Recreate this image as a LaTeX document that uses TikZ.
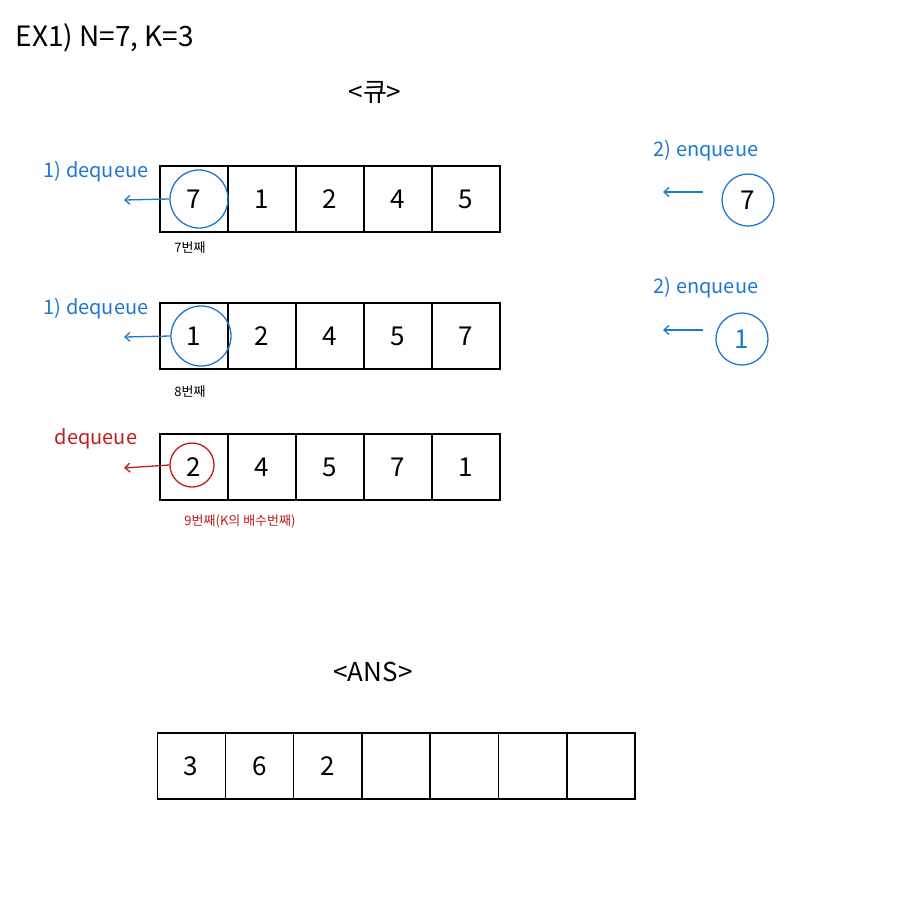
\documentclass[tikz,border=0pt]{standalone}
\usepackage{fontspec}
\setmainfont{Noto Sans CJK KR}
\usetikzlibrary{arrows.meta}
\definecolor{qblue}{RGB}{30,120,210}
\definecolor{qred}{RGB}{190,30,30}
\tikzset{
 cell/.style={draw,line width=1.3pt,minimum width=68pt,minimum height=66pt,inner sep=0,font=\fontsize{26}{26}\selectfont},
 ring/.style={draw,circle,line width=1.3pt,inner sep=0},
 arr/.style={-{Straight Barb[length=5pt,width=9pt]},line width=1.3pt},
 lab/.style={font=\fontsize{20}{20}\selectfont},
 small/.style={font=\fontsize{13}{13}\selectfont}
}
\begin{document}
\begin{tikzpicture}[x=1pt,y=-1pt]
\useasboundingbox[fill=white] (0,0) rectangle (901,900);
\node[anchor=west,font=\fontsize{28}{28}\selectfont] (t) at (12,38) {EX1) N=7, K=3};
\node[lab,font=\fontsize{26}{26}\selectfont] (q) at (375,92) {<큐>};
\node[font=\fontsize{26}{26}\selectfont] (ans) at (373,672) {<ANS>};
% rows
\foreach \r/\y/\vals in {a/199/{7,1,2,4,5},b/336/{1,2,4,5,7},c/467/{2,4,5,7,1}}{
 \foreach \v [count=\i] in \vals {
  \node[cell] (\r\i) at ({160+68*(\i-0.5)},\y) {\v};
 }
}
\foreach \v [count=\i] in {3,6,2,,,,}{
 \node[cell] (s\i) at ({157+68.3*(\i-0.5)},766) {\v};
}
% row 1
\node[ring,qblue,minimum size=58pt] (ca) at (199,199) {};
\coordinate (ea) at (124,200);
\draw[arr,qblue] (ca.west) -- (ea);
\node[lab,qblue] (da) at (96,172) {1) dequeue};
\node[small] (na) at (190,248) {7번째};
\node[lab,qblue] (fa) at (706,151) {2) enqueue};
\node[ring,qblue,minimum size=52pt,font=\fontsize{26}{26}\selectfont,text=black] (ga) at (748,200) {7};
\coordinate (ha1) at (703,192); \coordinate (ha2) at (663,192);
\draw[arr,qblue] (ha1) -- (ha2);
% row 2
\node[ring,qblue,minimum size=60pt] (cb) at (201,336) {};
\coordinate (eb) at (124,337);
\draw[arr,qblue] (cb.west) -- (eb);
\node[lab,qblue] (db) at (96,309) {1) dequeue};
\node[small] (nb) at (190,392) {8번째};
\node[lab,qblue] (fb) at (706,288) {2) enqueue};
\node[ring,qblue,minimum size=52pt,font=\fontsize{26}{26}\selectfont,text=qblue] (gb) at (742,339) {1};
\coordinate (hb1) at (703,330); \coordinate (hb2) at (663,330);
\draw[arr,qblue] (hb1) -- (hb2);
% row 3
\node[ring,qred,minimum size=44pt] (cc) at (192,465) {};
\coordinate (ec) at (124,468);
\draw[arr,qred] (cc.west) -- (ec);
\node[lab,qred] (dc) at (96,439) {dequeue};
\node[small,qred] (nc) at (240,521) {9번째(K의 배수번째)};
\end{tikzpicture}
\end{document}
